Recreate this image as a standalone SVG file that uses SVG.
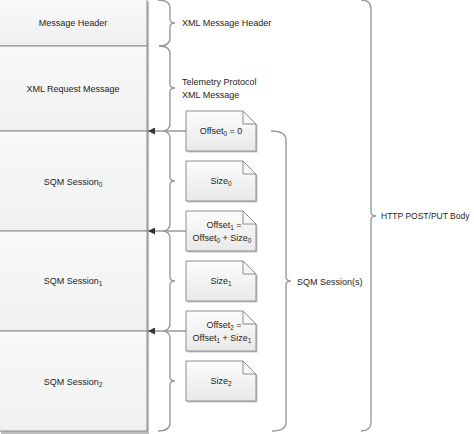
<svg xmlns="http://www.w3.org/2000/svg" width="474" height="434" viewBox="0 0 474 434">
<defs>
<linearGradient id="boxg" x1="0" y1="0" x2="0" y2="1">
<stop offset="0" stop-color="#f9f9f9"/>
<stop offset="1" stop-color="#f0f0f0"/>
</linearGradient>
<linearGradient id="noteg" x1="0" y1="0" x2="0" y2="1">
<stop offset="0" stop-color="#fcfcfc"/>
<stop offset="1" stop-color="#e9e9e9"/>
</linearGradient>
<marker id="ah" viewBox="0 0 10 10" refX="10" refY="5" markerWidth="7" markerHeight="7" markerUnits="userSpaceOnUse" orient="auto">
<path d="M0,0 L10,5 L0,10 Z" fill="#333"/>
</marker>
<path id="note" d="M0,0 H57 L70,13 V40 H0 Z"/>
</defs>
<style>
text{font-family:"Liberation Sans",Arial,sans-serif;font-size:9px;fill:#1e1e1e}
.c{text-anchor:middle}
.box{fill:url(#boxg);stroke:#8c8c8c;stroke-width:1}
.shadow{fill:#bdbdbd}
.nb{fill:url(#noteg);stroke:#8c8c8c;stroke-width:1}
.fold{fill:none;stroke:#8c8c8c;stroke-width:1}
.brace{fill:none;stroke:#9a9a9a;stroke-width:1.4}
.conn{fill:none;stroke:#666;stroke-width:1}
.sub{font-size:6.5px}
</style>
<rect width="474" height="434" fill="#ffffff"/>

<rect class="shadow" x="1" y="2" width="148" height="432"/>
<g id="n-header">
<rect class="box" x="-1" y="-1" width="148" height="47"/>
<text class="c" x="73" y="26">Message Header</text>
</g>
<g id="n-request">
<rect class="box" x="-1" y="46" width="148" height="85"/>
<text class="c" x="73" y="92">XML Request Message</text>
</g>
<g id="n-sqm0">
<rect class="box" x="-1" y="131" width="148" height="100"/>
<text class="c" x="73" y="185">SQM Session<tspan class="sub" dy="2">0</tspan></text>
</g>
<g id="n-sqm1">
<rect class="box" x="-1" y="231" width="148" height="100"/>
<text class="c" x="73" y="284">SQM Session<tspan class="sub" dy="2">1</tspan></text>
</g>
<g id="n-sqm2">
<rect class="box" x="-1" y="331" width="148" height="100"/>
<text class="c" x="73" y="385">SQM Session<tspan class="sub" dy="2">2</tspan></text>
</g>

<g id="n-offset0">
<use href="#note" x="187.5" y="112.5" fill="#c4c4c4"/>
<use href="#note" x="186" y="111" class="nb"/>
<path class="fold" d="M243,111 V124 H256"/>
<text class="c" x="221" y="134">Offset<tspan class="sub" dy="2">0</tspan><tspan dy="-2"> = 0</tspan></text>
</g>
<g id="n-size0">
<use href="#note" x="187.5" y="162.5" fill="#c4c4c4"/>
<use href="#note" x="186" y="161" class="nb"/>
<path class="fold" d="M243,161 V174 H256"/>
<text class="c" x="221" y="184">Size<tspan class="sub" dy="2">0</tspan></text>
</g>
<g id="n-offset1">
<use href="#note" x="187.5" y="212.5" fill="#c4c4c4"/>
<use href="#note" x="186" y="211" class="nb"/>
<path class="fold" d="M243,211 V224 H256"/>
<text class="c" x="224" y="227.5">Offset<tspan class="sub" dy="2">1</tspan><tspan dy="-2"> =</tspan></text>
<text class="c" x="222" y="240.5">Offset<tspan class="sub" dy="2">0</tspan><tspan dy="-2"> + Size</tspan><tspan class="sub" dy="2">0</tspan></text>
</g>
<g id="n-size1">
<use href="#note" x="187.5" y="262.5" fill="#c4c4c4"/>
<use href="#note" x="186" y="261" class="nb"/>
<path class="fold" d="M243,261 V274 H256"/>
<text class="c" x="221" y="284">Size<tspan class="sub" dy="2">1</tspan></text>
</g>
<g id="n-offset2">
<use href="#note" x="187.5" y="312.5" fill="#c4c4c4"/>
<use href="#note" x="186" y="311" class="nb"/>
<path class="fold" d="M243,311 V324 H256"/>
<text class="c" x="224" y="327.5">Offset<tspan class="sub" dy="2">2</tspan><tspan dy="-2"> =</tspan></text>
<text class="c" x="222" y="340.5">Offset<tspan class="sub" dy="2">1</tspan><tspan dy="-2"> + Size</tspan><tspan class="sub" dy="2">1</tspan></text>
</g>
<g id="n-size2">
<use href="#note" x="187.5" y="362.5" fill="#c4c4c4"/>
<use href="#note" x="186" y="361" class="nb"/>
<path class="fold" d="M243,361 V374 H256"/>
<text class="c" x="221" y="384">Size<tspan class="sub" dy="2">2</tspan></text>
</g>

<g id="connectors">
<path class="conn" d="M186,131 H148" marker-end="url(#ah)"/>
<path class="conn" d="M186,231 H148" marker-end="url(#ah)"/>
<path class="conn" d="M186,331 H148" marker-end="url(#ah)"/>
<path class="brace" d="M158,0 C166,0 170,3 170,8 V19 C170,22 172,23 175,23 C172,23 170,24 170,27 V38 C170,43 167,46 159,46"/>
<path class="brace" d="M159,46 C167,46 170,49 170,54 V84 C170,87 172,88 175,88 C172,88 170,89 170,92 V124 C170,128 167,131 163,131"/>
<path class="brace" d="M163,131 C167,131 170,134 170,138 V177 C170,180 172,181 175,181 C172,181 170,182 170,185 V224 C170,228 167,231 163,231"/>
<path class="brace" d="M163,231 C167,231 170,234 170,238 V277 C170,280 172,281 175,281 C172,281 170,282 170,285 V324 C170,328 167,331 163,331"/>
<path class="brace" d="M163,331 C167,331 170,334 170,338 V377 C170,380 172,381 175,381 C172,381 170,382 170,385 V423 C170,428 166,431 158,431"/>
<path class="brace" d="M271,131 C281,131 286,134 286,140 V277 C286,280 288,281 291,281 C288,281 286,282 286,285 V422 C286,428 281,431 272,431"/>
<path class="brace" d="M361,0 C368,0 371,3 371,9 V212 C371,215 373,216 376,216 C373,216 371,217 371,220 V422 C371,428 368,431 361,431"/>
</g>

<text x="182" y="26">XML Message Header</text>
<text x="182" y="85">Telemetry Protocol</text>
<text x="182" y="98">XML Message</text>
<text x="297" y="285">SQM Session(s)</text>
<text x="381" y="219" style="font-size:8.5px">HTTP POST/PUT Body</text>
</svg>
